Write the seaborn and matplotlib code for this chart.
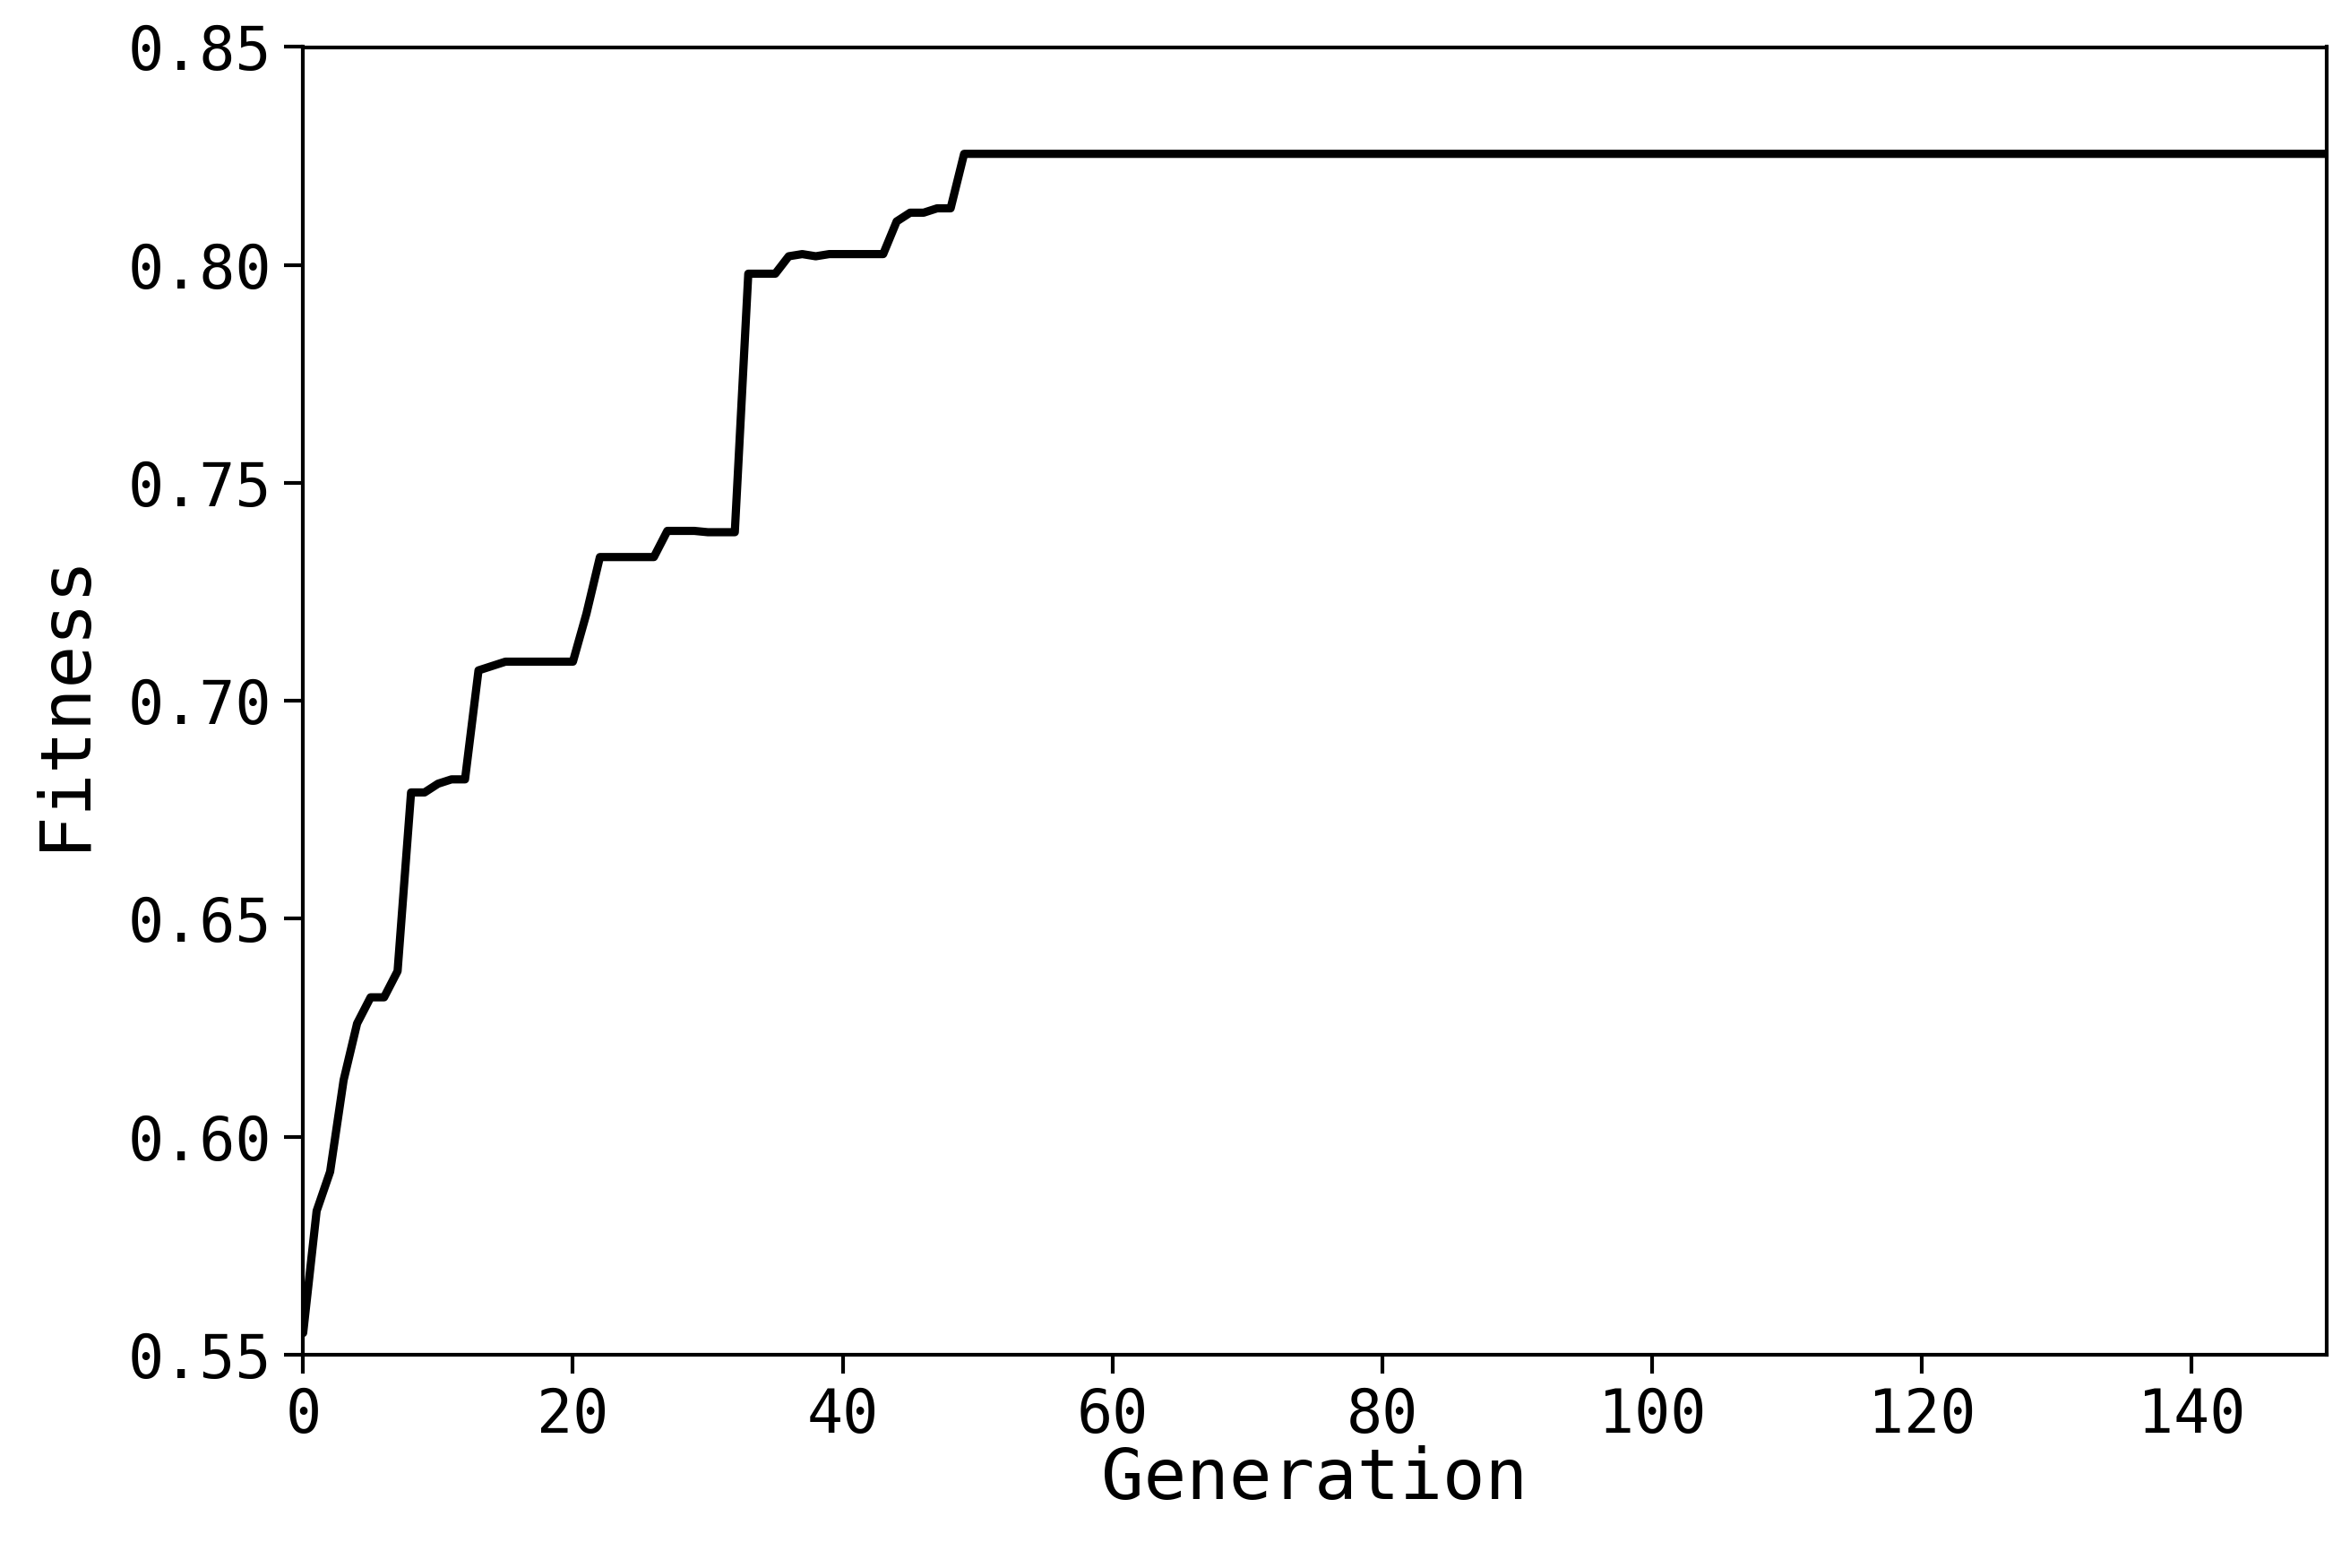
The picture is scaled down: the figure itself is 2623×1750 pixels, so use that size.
import matplotlib
matplotlib.use("Agg")
import matplotlib.pyplot as plt
import seaborn as sns
import numpy as np

sns.set_style("ticks")
plt.rcParams['font.family'] = ['DejaVu Sans Mono', 'DejaVu Sans']

early_fitness = [0.555, 0.583, 0.592, 0.613, 0.626, 0.632, 0.632, 0.638, 0.679, 0.679,
                 0.681, 0.682, 0.682, 0.707, 0.708, 0.709, 0.709, 0.709, 0.709, 0.709,
                 0.709, 0.720, 0.733, 0.733, 0.733, 0.733, 0.733, 0.739, 0.739, 0.739,
                 0.7387, 0.7387, 0.7387, 0.798, 0.798, 0.798, 0.802, 0.8025, 0.802, 0.8025,
                 0.8025, 0.8025, 0.8025, 0.8025, 0.810, 0.812, 0.812, 0.813, 0.813, 0.8255]
plateau_value = 0.8255
n_generations = 151
fitness = early_fitness + [plateau_value] * (n_generations - len(early_fitness))
generations = list(range(n_generations))

fig = plt.figure(figsize=(2623/300, 1750/300), dpi=300)
ax = fig.add_axes([0.129, 0.136, 0.861, 0.834])
sns.lineplot(x=generations, y=fitness, ax=ax, color='black', linewidth=2.2)
ax.set_xlim(0, 150)
ax.set_ylim(0.55, 0.85)
ax.set_xticks(range(0, 141, 20))
ax.set_yticks([0.55, 0.60, 0.65, 0.70, 0.75, 0.80, 0.85])
ax.set_yticklabels(['0.85'.replace('85', '55'), '0.60', '0.65', '0.70', '0.75', '0.80', '0.85'])
ax.tick_params(labelsize=16, width=1, length=5, colors='black')
ax.set_xlabel('Generation', fontsize=19, labelpad=0, color='black')
ax.set_ylabel('Fitness', fontsize=19, labelpad=8, color='black')
for s in ax.spines.values():
    s.set_linewidth(1)
    s.set_color('black')
fig.savefig('out.png', dpi=300)
